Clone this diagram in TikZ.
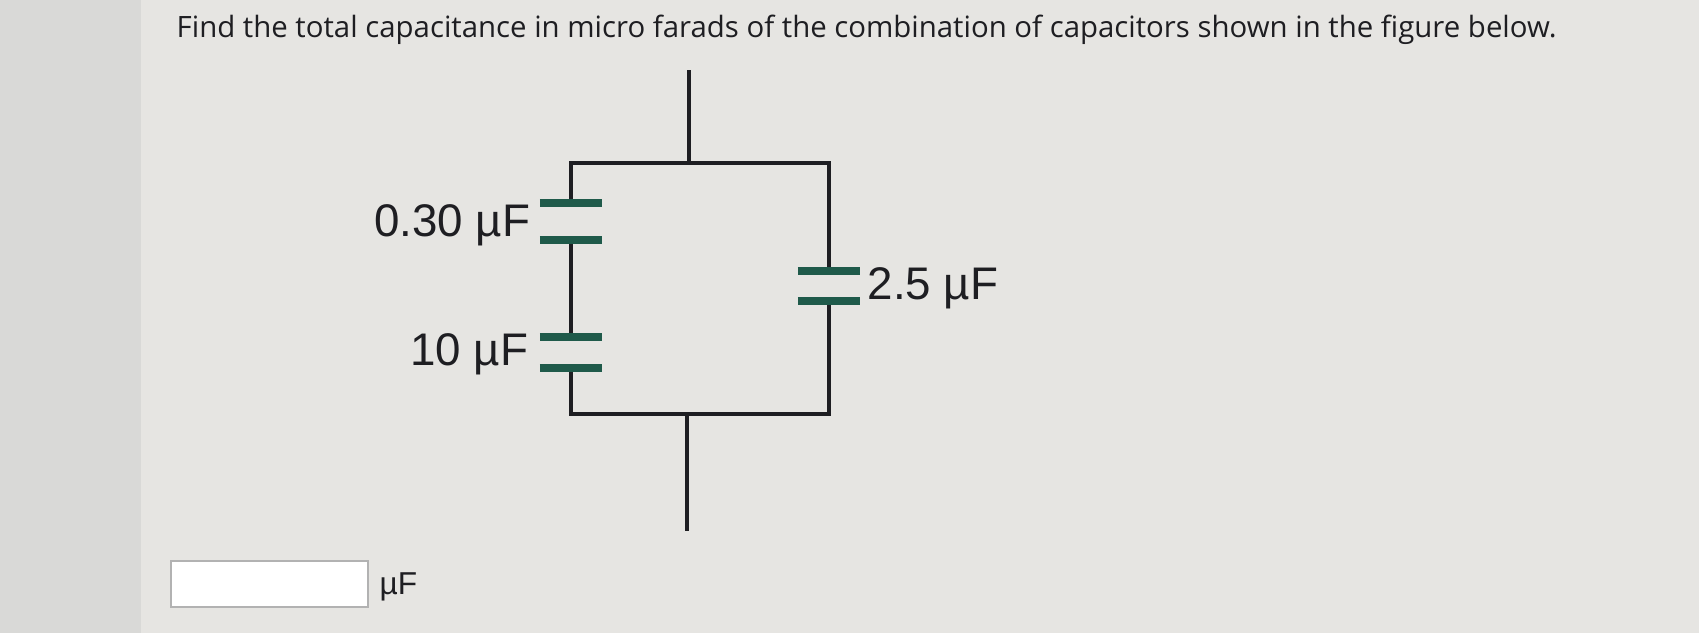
\documentclass[tikz,border=0pt]{standalone}
\usepackage{fontspec}
\setmainfont{Liberation Sans}
\newfontfamily\titlefont{Open Sans}
\usepackage{graphicx}
\definecolor{bg}{HTML}{E6E5E2}
\definecolor{strip}{HTML}{D9D9D7}
\definecolor{plate}{HTML}{1F5A4A}
\definecolor{ink}{HTML}{1E1E22}
\begin{document}
\begin{tikzpicture}[x=0.01cm,y=-0.01cm,
  wire/.style={draw=ink,line width=1.1pt},
  plt/.style={draw=plate,line width=2pt},
  lbl/.style={font=\fontsize{13}{15}\selectfont,text=ink,inner sep=0pt}]
\fill[bg] (0,0) rectangle (1699,633);
\fill[strip] (0,0) rectangle (141,633);
\useasboundingbox (0,0) rectangle (1699,633);
\node[anchor=west,inner sep=0pt,text=ink] (title) at (176,30) {\resizebox{13.79cm}{!}{\titlefont Find the total capacitance in micro farads of the combination of capacitors shown in the figure below.}};
% nodes
\coordinate (t0) at (689,70); \coordinate (t1) at (689,163);
\coordinate (b0) at (687,414); \coordinate (b1) at (687,531);
\coordinate (tl) at (571,163); \coordinate (tr) at (829,163);
\coordinate (bl) at (571,414); \coordinate (br) at (829,414);
\coordinate (c1a) at (571,203); \coordinate (c1b) at (571,240);
\coordinate (c2a) at (571,337); \coordinate (c2b) at (571,368);
\coordinate (c3a) at (829,271); \coordinate (c3b) at (829,301);
\draw[wire] (t0) -- (t1);
\draw[wire] (b0) -- (b1);
\draw[wire] (c1a) -- (tl) -- (tr) -- (c3a);
\draw[wire] (c1b) -- (c2a);
\draw[wire] (c2b) -- (bl) -- (br) -- (c3b);
\foreach \c in {c1a,c1b,c2a,c2b,c3a,c3b}{\draw[plt] ([xshift=-0.31cm]\c) -- ([xshift=0.31cm]\c);}
\node[lbl,anchor=east] (l1) at (531,225) {0.30 µF};
\node[lbl,anchor=east] (l2) at (529,354) {10 µF};
\node[lbl,anchor=west] (l3) at (867,288) {2.5 µF};
\node[draw=gray!60,fill=white,minimum width=1.97cm,minimum height=0.46cm,inner sep=0pt] (box) at (269.5,584) {};
\node[anchor=west,inner sep=0pt,font=\fontsize{9}{11}\selectfont,text=ink] (unit) at (379,587) {µF};
\end{tikzpicture}
\end{document}
